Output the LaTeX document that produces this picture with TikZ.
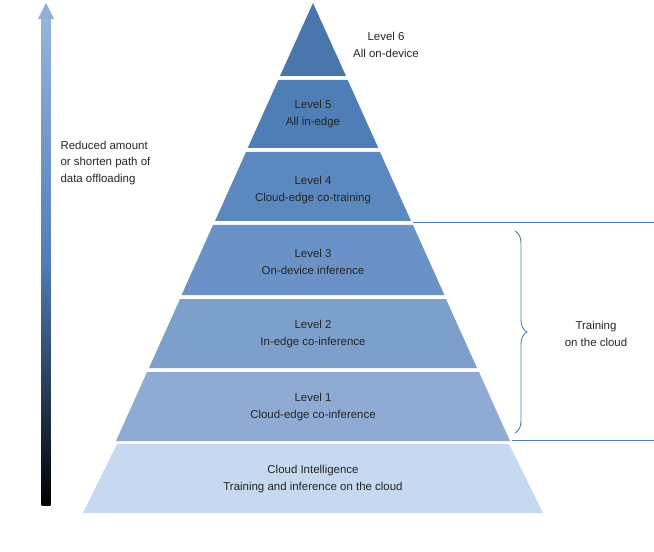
\documentclass[tikz,border=0pt]{standalone}
\usepackage{fontspec}
\setmainfont{Liberation Sans}
\usetikzlibrary{decorations.pathreplacing}
\definecolor{c6}{HTML}{4A76AD}\definecolor{c5}{HTML}{4F7DB5}\definecolor{c4}{HTML}{5B88BF}
\definecolor{c3}{HTML}{6B92C6}\definecolor{c2}{HTML}{7D9FCC}\definecolor{c1}{HTML}{90ABD3}
\definecolor{c0}{HTML}{C6D9F0}
\definecolor{lineblue}{RGB}{80,125,185}
\definecolor{arrtop}{RGB}{150,180,220}
\definecolor{arrhead}{RGB}{145,175,215}
\begin{document}
\begin{tikzpicture}[x=1bp,y=-1bp,
  lbl/.style={align=center,font=\fontsize{11.5}{17}\selectfont,text=black!85},
  rl/.style={draw=lineblue, line width=0.9bp}]
\useasboundingbox (0,0) rectangle (654,552);
\fill[c6] (313,3) -- (346,76) -- (280,76) -- cycle;
\fill[c5] (278.3,80) -- (347.7,80) -- (378.3,148) -- (247.7,148) -- cycle;
\fill[c4] (246,152) -- (380,152) -- (411,221) -- (215,221) -- cycle;
\fill[c3] (213,225) -- (413,225) -- (444.4,295) -- (181.6,295) -- cycle;
\fill[c2] (180,299) -- (446,299) -- (477,368) -- (149,368) -- cycle;
\fill[c1] (147,372) -- (479,372) -- (510,441) -- (116,441) -- cycle;
\fill[c0] (117,444) -- (509,444) -- (543,513) -- (83,513) -- cycle;
\node[lbl] (l6) at (386,45) {Level 6\\All on-device};
\node[lbl] (l5) at (313,114) {Level 5\\All in-edge};
\node[lbl] (l4) at (313,190) {Level 4\\Cloud-edge co-training};
\node[lbl] (l3) at (313,262) {Level 3\\On-device inference};
\node[lbl] (l2) at (313,334) {Level 2\\In-edge co-inference};
\node[lbl] (l1) at (313,407) {Level 1\\Cloud-edge co-inference};
\node[lbl] (l0) at (313,479) {Cloud Intelligence\\Training and inference on the cloud};
\shade[top color=arrtop, bottom color=black, middle color=lineblue]
  (41.5,505) rectangle (50.5,19);
\fill[arrhead] (38,19) -- (54,19) -- (46,3) -- cycle;
\node[lbl,align=left,anchor=west] (txt) at (57,163) {Reduced amount\\or shorten path of\\data offloading};
\coordinate (a1) at (413,222); \coordinate (a2) at (654,222);
\coordinate (b1) at (512,440); \coordinate (b2) at (654,440);
\draw[rl] (a1) -- (a2);
\draw[rl] (b1) -- (b2);
\coordinate (br1) at (515,231); \coordinate (br2) at (515,433);
\draw[rl,decorate,decoration={brace,amplitude=12bp,mirror}] (br2) -- (br1);
\node[lbl] (tr) at (596,334) {Training\\on the cloud};
\end{tikzpicture}
\end{document}
